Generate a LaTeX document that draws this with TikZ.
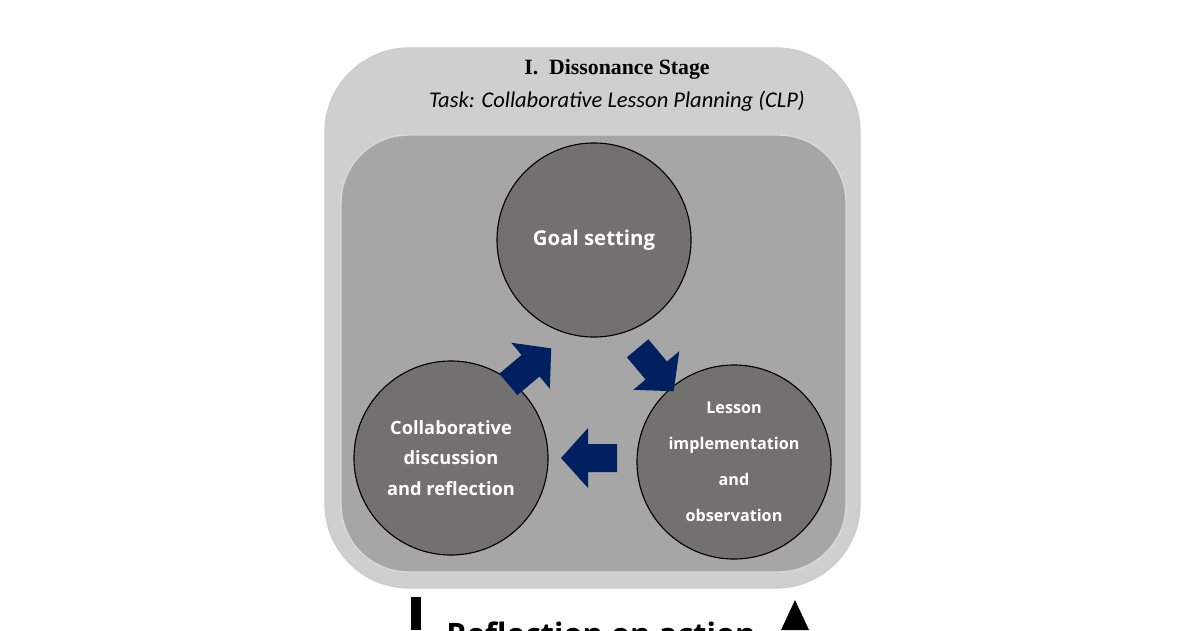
\documentclass[tikz,border=0pt]{standalone}
\usepackage{fontspec}
\setmainfont{Liberation Serif}
\newfontfamily\osans{Open Sans}
\newfontfamily\carl{Carlito}
\begin{document}
\begin{tikzpicture}[x=0.025cm,y=-0.025cm,
  circ/.style={circle,draw=black,line width=0.8pt,fill=cgray,text=white,align=center,inner sep=0pt,minimum size=4.85cm}]
\definecolor{cgray}{HTML}{737070}
\definecolor{navy}{HTML}{002060}
\definecolor{outerg}{HTML}{D0CFD0}
\definecolor{innerg}{HTML}{A6A6A6}
\useasboundingbox (0,0) rectangle (1200,630);
\fill[white] (0,0) rectangle (1200,630);
\draw[fill=outerg,draw=gray!40,line width=1pt,rounded corners=60\pgflinewidth] (325,48) rectangle (860,588);
\draw[fill=innerg,draw=gray!30,line width=1pt,rounded corners=48\pgflinewidth] (341,135) rectangle (846,572);
\node[font=\bfseries\fontsize{15.5}{18}\selectfont] (title) at (617,69) {I.\ \ Dissonance Stage};
\node[font=\carl\itshape\fontsize{16}{18}\selectfont] (task) at (617,101) {Task: Collaborative Lesson Planning (CLP)};
\node[circ,font=\osans\bfseries\fontsize{14.5}{16}\selectfont] (goal) at (594,240) {Goal setting};
\node[circ,font=\osans\bfseries\fontsize{13}{21.5}\selectfont] (collab) at (451,458) {Collaborative\\discussion\\and reflection};
\node[circ,font=\osans\bfseries\fontsize{11.5}{25.5}\selectfont] (lesson) at (734,462) {Lesson\\implementation\\and\\observation};
\foreach \cx/\cy/\ang in {529/367/40, 655/369/-50, 590/458/180}{
  \fill[navy,shift={(\cx,\cy)},rotate=\ang] (-27,-14) -- (2,-14) -- (2,-30) -- (29,0) -- (2,30) -- (2,14) -- (-27,14) -- cycle;
}
\fill[black] (411,597) rectangle (421,630);
\fill[black] (795,600) -- (781,630) -- (809,630) -- cycle;
\node[font=\osans\bfseries\fontsize{22}{26}\selectfont,anchor=base] (refl) at (601,645) {Reflection on action};
\end{tikzpicture}
\end{document}
